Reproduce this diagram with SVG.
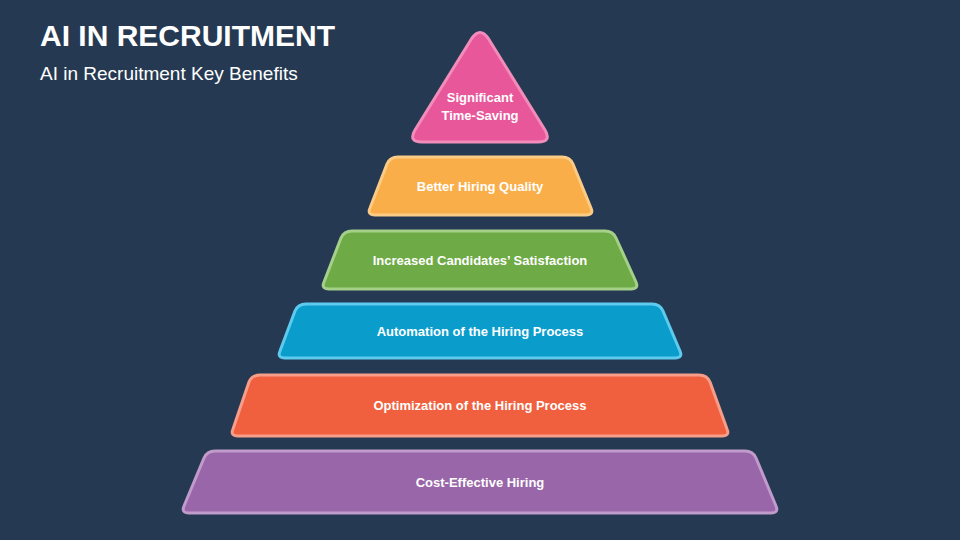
<svg xmlns="http://www.w3.org/2000/svg" width="960" height="540" viewBox="0 0 960 540">
<style>
.lbl{font-family:"Liberation Sans",Arial,sans-serif;font-size:13px;font-weight:bold;fill:#fff;text-anchor:middle}
.sh{stroke-width:3;stroke-linejoin:round}
</style>
<rect width="960" height="540" fill="#253A52"/>
<text x="40" y="46" font-family="Liberation Sans,Arial,sans-serif" font-size="30" font-weight="bold" fill="#fff">AI IN RECRUITMENT</text>
<text x="40" y="80" font-family="Liberation Sans,Arial,sans-serif" font-size="19" fill="#fff">AI in Recruitment Key Benefits</text>
<g id="n1"><path class="sh" fill="#E8579A" stroke="#F28DBB" d="M472,38 Q480,27 488,38 L545,130 Q552,142 538,142 L422,142 Q408,142 415,130 Z"/>
<text class="lbl" x="480" y="102">Significant</text><text class="lbl" x="480" y="120">Time-Saving</text></g>
<g id="n2"><path class="sh" fill="#F9AE4A" stroke="#FCCB85" d="M398,157 L562,157 Q570,157 573,164 L591,208 Q594,215 586,215 L375,215 Q367,215 370,208 L387,164 Q390,157 398,157 Z"/>
<text class="lbl" x="480" y="191">Better Hiring Quality</text></g>
<g id="n3"><path class="sh" fill="#6EAA45" stroke="#A5D08A" d="M352,231 L605,231 Q613,231 616,238 L636,282 Q639,289 631,289 L329,289 Q321,289 324,282 L341,238 Q344,231 352,231 Z"/>
<text class="lbl" x="480" y="265">Increased Candidates’ Satisfaction</text></g>
<g id="n4"><path class="sh" fill="#0A9DCC" stroke="#5ECBEE" d="M306,304 L652,304 Q660,304 663,311 L680,351 Q683,358 675,358 L285,358 Q277,358 280,351 L295,311 Q298,304 306,304 Z"/>
<text class="lbl" x="480" y="336">Automation of the Hiring Process</text></g>
<g id="n5"><path class="sh" fill="#F05F3E" stroke="#F79E8A" d="M260,375 L699,375 Q707,375 710,382 L727,429 Q730,436 722,436 L238,436 Q230,436 233,429 L249,382 Q252,375 260,375 Z"/>
<text class="lbl" x="480" y="410">Optimization of the Hiring Process</text></g>
<g id="n6"><path class="sh" fill="#9966A9" stroke="#C09BCB" d="M215,451 L745,451 Q753,451 756,458 L776,506 Q779,513 771,513 L189,513 Q181,513 184,506 L204,458 Q207,451 215,451 Z"/>
<text class="lbl" x="480" y="487">Cost-Effective Hiring</text></g>
<g id="connectors"/>
</svg>
